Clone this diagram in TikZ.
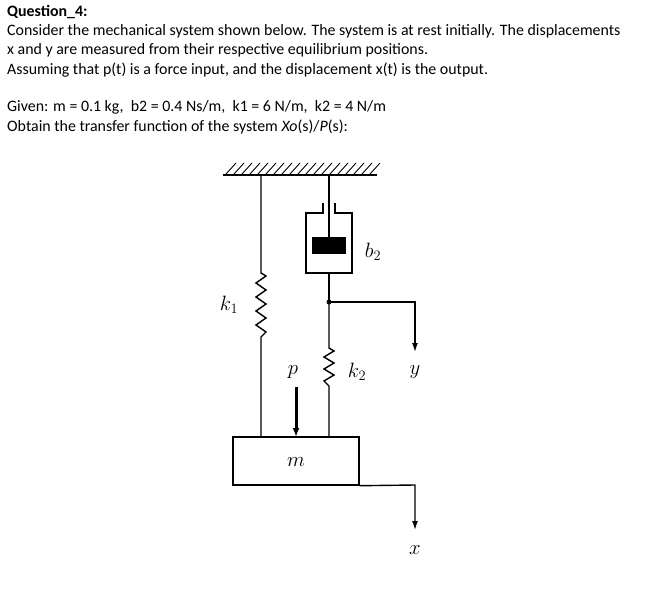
\documentclass[tikz,border=0pt]{standalone}
\usepackage{fontspec}
\setmainfont{Carlito}
\usetikzlibrary{arrows.meta}
\begin{document}
\begin{tikzpicture}[x=1pt,y=-1pt,
  txt/.style={anchor=west,inner sep=0pt,font=\fontsize{15.9}{17}\selectfont},
  lbl/.style={inner sep=0pt,font=\fontsize{20}{22}\selectfont},
  ln/.style={line width=1.4pt},
  arr/.style={ln,-{Latex[length=9pt,width=6pt]}}]
\useasboundingbox (0,0) rectangle (651,591);
\node[txt] (t1) at (7,12) {\textbf{Question\_4:}};
\node[txt] (t2) at (7,31) {Consider the mechanical system shown below. The system is at rest initially. The displacements};
\node[txt] (t3) at (7,50) {x and y are measured from their respective equilibrium positions.};
\node[txt] (t4) at (7,70) {Assuming that p(t) is a force input, and the displacement x(t) is the output.};
\node[txt] (t5) at (7,107) {Given: m = 0.1 kg,\ \ b2 = 0.4 Ns/m,\ \ k1 = 6 N/m,\ \ k2 = 4 N/m};
\node[txt] (t6) at (7,127) {Obtain the transfer function of the system \textit{Xo}(s)/\textit{P}(s):};
% ceiling
\foreach \i in {0,...,18} \draw[line width=0.9pt] (226+8*\i,174) -- (236+8*\i,163);
\draw[ln] (223,175) -- (377,175);
% mass
\node[draw,ln,minimum width=126pt,minimum height=48pt,inner sep=0pt] (m) at (296,461) {};
\node[lbl] at (296,462) {$m$};
% left spring
\draw[ln] (261,175) -- (261,273) -- (266,276) -- (256,283) -- (266,290) -- (256,297) -- (266,304) -- (256,311) -- (266,318) -- (256,325) -- (266,332) -- (261,337) -- (261,437);
\node[lbl] at (229,305) {$k_1$};
% dashpot
\draw[ln] (329,175) -- (329,237);
\fill (312,237) rectangle (346,254);
\draw[ln] (323,203) -- (323,213) -- (306,213) -- (306,273) -- (352,273) -- (352,213) -- (335,213) -- (335,203);
\draw[ln] (329,273) -- (329,302);
\fill (329,302) circle (2.5pt);
\node[lbl] at (373,252) {$b_2$};
% right spring
\draw[ln] (329,302) -- (329,348) -- (334,351) -- (324,357) -- (334,363) -- (324,369) -- (334,375) -- (324,381) -- (329,386) -- (329,437);
\node[lbl] at (357,372) {$k_2$};
% y arrow
\draw[arr] (329,302) -- (415,302) -- (415,352);
\node[lbl] at (415,372) {$y$};
% p arrow
\draw[line width=3pt,-{Latex[length=9pt,width=7pt]}] (296,387) -- (296,437);
\node[lbl] at (293,372) {$p$};
% x arrow
\draw[arr] (m.south east) -- (415,485) -- (415,530);
\node[lbl] at (415,550) {$x$};
\end{tikzpicture}
\end{document}
